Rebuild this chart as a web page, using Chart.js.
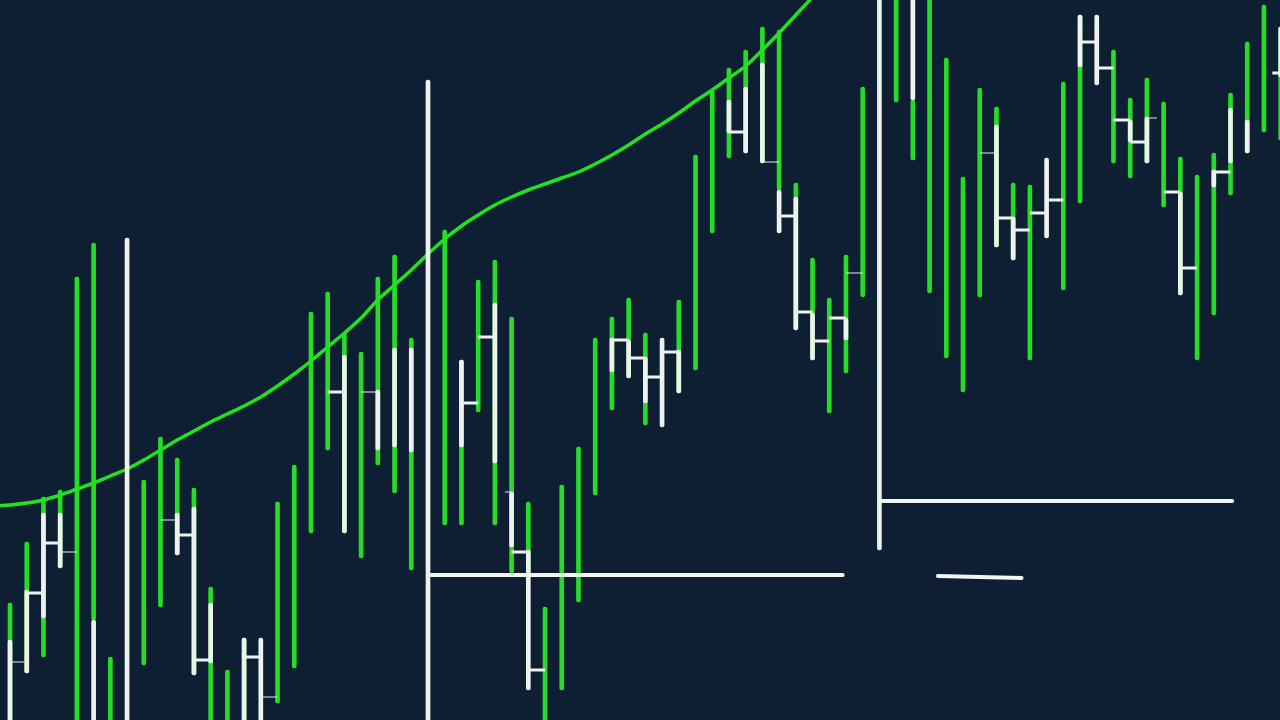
<!DOCTYPE html>
<html>
<head>
<meta charset="utf-8">
<script src="https://cdn.jsdelivr.net/npm/chart.js@4.4.1/dist/chart.umd.min.js"></script>
<style>
html, body { margin: 0; padding: 0; background: #0f1f33; }
canvas { display: block; }
</style>
</head>
<body>
<canvas id="myChart" width="1280" height="720"></canvas>
<script>
// green range sticks, one per bar (null = no green stick)
const greenHigh = [111.7, 117.8, 122.3, 123.0, 144.3, 147.7, 106.3, null, 124, 128.3,
    126.2, 123.2, 113.3, 105, 108.2, null, 121.8, 125.5, 140.8, 142.8,
    138.7, 136.8, 144.3, 146.5, 138.2, null, 149, 136, 144, 146,
    140.3, 121.8, 111.3, 123.5, 127.3, 138.2, 140.3, 142.2, 138.7, null,
    142, 156.5, 163, 165.2, 167, 169.3, 169, 153.7, 146.2, 142.2,
    146.5, 163.3, null, 174, 162, 174, 166.2, 154.3, 163.2, 161.3,
    153.7, 153.5, null, 163.8, 170.5, null, 167, 162.2, 164.2, 161.8,
    156.3, 154.5, 156.7, 162.7, 167.8, 171.5, 169.3];
const greenLow = [98, 104.7, 106.3, 115.2, 98, 110, 98, null, 105.5, 111.3,
    116.5, 104.5, 98, 98, 98, null, 101.7, 105.2, 118.7, 127,
    118.7, 116.2, 125.5, 122.7, 115, null, 119.5, 119.5, 130.8, 119.5,
    114.7, 114.7, 98, 103, 111.8, 122.5, 131, 134.2, 129.5, null,
    132.7, 135, 148.7, 156.2, 156.7, 155.7, 153, 139, 136, 130.7,
    134.7, 142.3, null, 161.8, 156, 142.7, 136.2, 132.8, 142.3, 147.3,
    146, 136, null, 143, 151.7, null, 155.7, 154.2, 155.7, 151.3,
    142.5, 136, 140.5, 152.5, 156.7, 158.8, 158];

// white segments drawn over the sticks
const whiteIdx = [0, 1, 2, 3, 5, 7, 10, 11, 12, 14, 15, 20, 22, 23, 24, 25, 27, 29, 30, 31,
    36, 37, 38, 39, 40, 43, 44, 45, 46, 47, 48, 50, 52, 54, 59, 60, 62, 64, 65, 67,
    68, 70, 72, 73, 74, 76];
const whiteTop = [108, 113, 120.7, 120.7, 110, 148.2, 120.7, 121.3, 111.7, 108.2, 108.2, 136.5, 133, 137.2, 137.2, 164, 136, 141.7, 122.8, 117,
    138.2, 138, 136.3, 138.2, 137, 162, 163.3, 165.7, 153, 152.3, 140.7, 140.2, 174, 174, 159.5, 150.3, 156.2, 170.5, 170.5, 160,
    160.3, 152.8, 155, 161.2, 160, 169.3];
const whiteBottom = [98, 104.7, 110.2, 115.2, 98, 98, 116.5, 104.5, 105.7, 98, 98, 118.7, 127, 127.3, 126.8, 98, 127.3, 125.7, 117.3, 103,
    134.8, 134.2, 131.7, 129.3, 132.7, 158.7, 156.7, 155.7, 148.7, 139, 136, 138, 117, 162, 147.3, 146, 148.2, 165.3, 163.5, 157.8,
    155.7, 142.5, 153.3, 155.7, 156.7, 164.3];

// horizontal ticks joining neighbouring bars
const tickFrom = [0, 1, 2, 3, 9, 10, 11, 14, 15, 19, 21, 27, 28, 29.6, 30, 31, 36, 37, 38, 39,
    43, 45, 46, 47, 48, 49, 50, 58, 59, 60, 61, 62, 64, 65, 66, 67, 68, 69, 70, 72, 75.5];
const tickTo = [1, 2, 3, 4, 10, 11, 12, 15, 16, 20, 22, 28, 29, 30, 31, 32, 37, 38, 39, 40,
    44, 46, 47, 48, 49, 50, 51, 59, 60, 61, 62, 63, 65, 66, 67, 68, 68.6, 70, 71, 73, 76];
const tickLevel = [105.8, 112.7, 117.7, 116.8, 120, 118.5, 106, 106.3, 102.3, 132.8, 132.8, 131.7, 138.3, 122.8, 116.8, 105, 138, 136.2, 134.3, 136.8,
    158.8, 155.8, 150.4, 140.8, 137.9, 140.2, 144.7, 156.7, 150.2, 149, 150.7, 152, 167.8, 165.2, 160, 157.8, 160.2, 152.8, 145.2, 154.8, 164.7];
const tickThin = [1, 0, 0, 1, 1, 0, 0, 0, 1, 0, 1, 0, 0, 1, 0, 0, 0, 0, 0, 0,
    0, 1, 0, 0, 0, 0, 1, 1, 0, 0, 0, 0, 0, 0, 0, 0, 1, 0, 0, 0, 0];

// moving average, starting one bar before the first stick
const maValues = [121.4, 121.5, 121.7, 122, 122.5, 123.1, 123.7, 124.4, 125.1, 126, 127,
    128, 128.9, 129.8, 130.6, 131.4, 132.3, 133.4, 134.6, 135.9, 137.3,
    138.7, 140.2, 142, 143.5, 145, 146.6, 148.1, 149.4, 150.5, 151.5,
    152.3, 153, 153.6, 154.2, 154.8, 155.6, 156.5, 157.5, 158.6, 159.6,
    160.7, 161.9, 163, 164.2, 165.4, 167, 168.7, 170.5, 172.3, 174.2];

// support levels
const levelStart = [25, 52, 55.5];
const levelEnd = [49.8, 73.1, 60.5];
const levelStartPrice = [114.5, 121.9, 114.4];
const levelEndPrice = [114.5, 121.9, 114.2];

const greenData = [];
for (let i = 0; i < greenHigh.length; i++) {
    if (greenHigh[i] !== null) greenData.push({ x: i, y: [greenLow[i], greenHigh[i]] });
}
const whiteData = whiteIdx.map((v, k) => ({ x: v, y: [whiteBottom[k], whiteTop[k]] }));

function tickLine(thin) {
    let pts = [];
    for (let k = 0; k < tickFrom.length; k++) {
        if (tickThin[k] !== thin) continue;
        pts.push({ x: tickFrom[k], y: tickLevel[k] });
        pts.push({ x: tickTo[k], y: tickLevel[k] });
        pts.push({ x: tickTo[k], y: null });
    }
    return pts;
}

const levelSets = levelStart.map((s, k) => ({
    type: 'line',
    data: [{ x: s, y: levelStartPrice[k] }, { x: levelEnd[k], y: levelEndPrice[k] }],
    borderColor: '#f2f5f2',
    borderWidth: 4,
    borderCapStyle: 'round',
    pointRadius: 0,
    order: 1
}));

const config = {
    type: 'bar',
    data: {
        datasets: [{
            label: 'range',
            data: greenData,
            backgroundColor: '#26dc29',
            barThickness: 4,
            grouped: false,
            borderSkipped: false,
            borderRadius: 2,
            order: 5
        }, {
            type: 'line',
            label: 'MA',
            data: maValues.map((v, i) => ({ x: i - 1, y: v })),
            borderColor: '#1fe31f',
            borderWidth: 3.5,
            cubicInterpolationMode: 'monotone',
            pointRadius: 0,
            order: 4
        }, {
            label: 'white',
            data: whiteData,
            backgroundColor: '#eef2ee',
            barThickness: 4,
            grouped: false,
            borderSkipped: false,
            borderRadius: 2,
            order: 3
        }, {
            type: 'line',
            label: 'ticks',
            data: tickLine(0),
            borderColor: '#eef2ee',
            borderWidth: 3,
            spanGaps: false,
            pointRadius: 0,
            order: 2
        }, {
            type: 'line',
            label: 'thin ticks',
            data: tickLine(1),
            borderColor: 'rgba(220,228,230,0.7)',
            borderWidth: 1.5,
            spanGaps: false,
            pointRadius: 0,
            order: 2
        }].concat(levelSets)
    },
    options: {
        responsive: false,
        animation: false,
        layout: { padding: 0, autoPadding: false },
        plugins: { legend: { display: false }, tooltip: { enabled: false } },
        scales: {
            x: { type: 'linear', min: -0.6, max: 75.96, offset: false, display: false },
            y: { min: 100, max: 172, display: false }
        }
    }
};

let myChart = new Chart(document.getElementById('myChart'), config);
</script>
</body>
</html>
